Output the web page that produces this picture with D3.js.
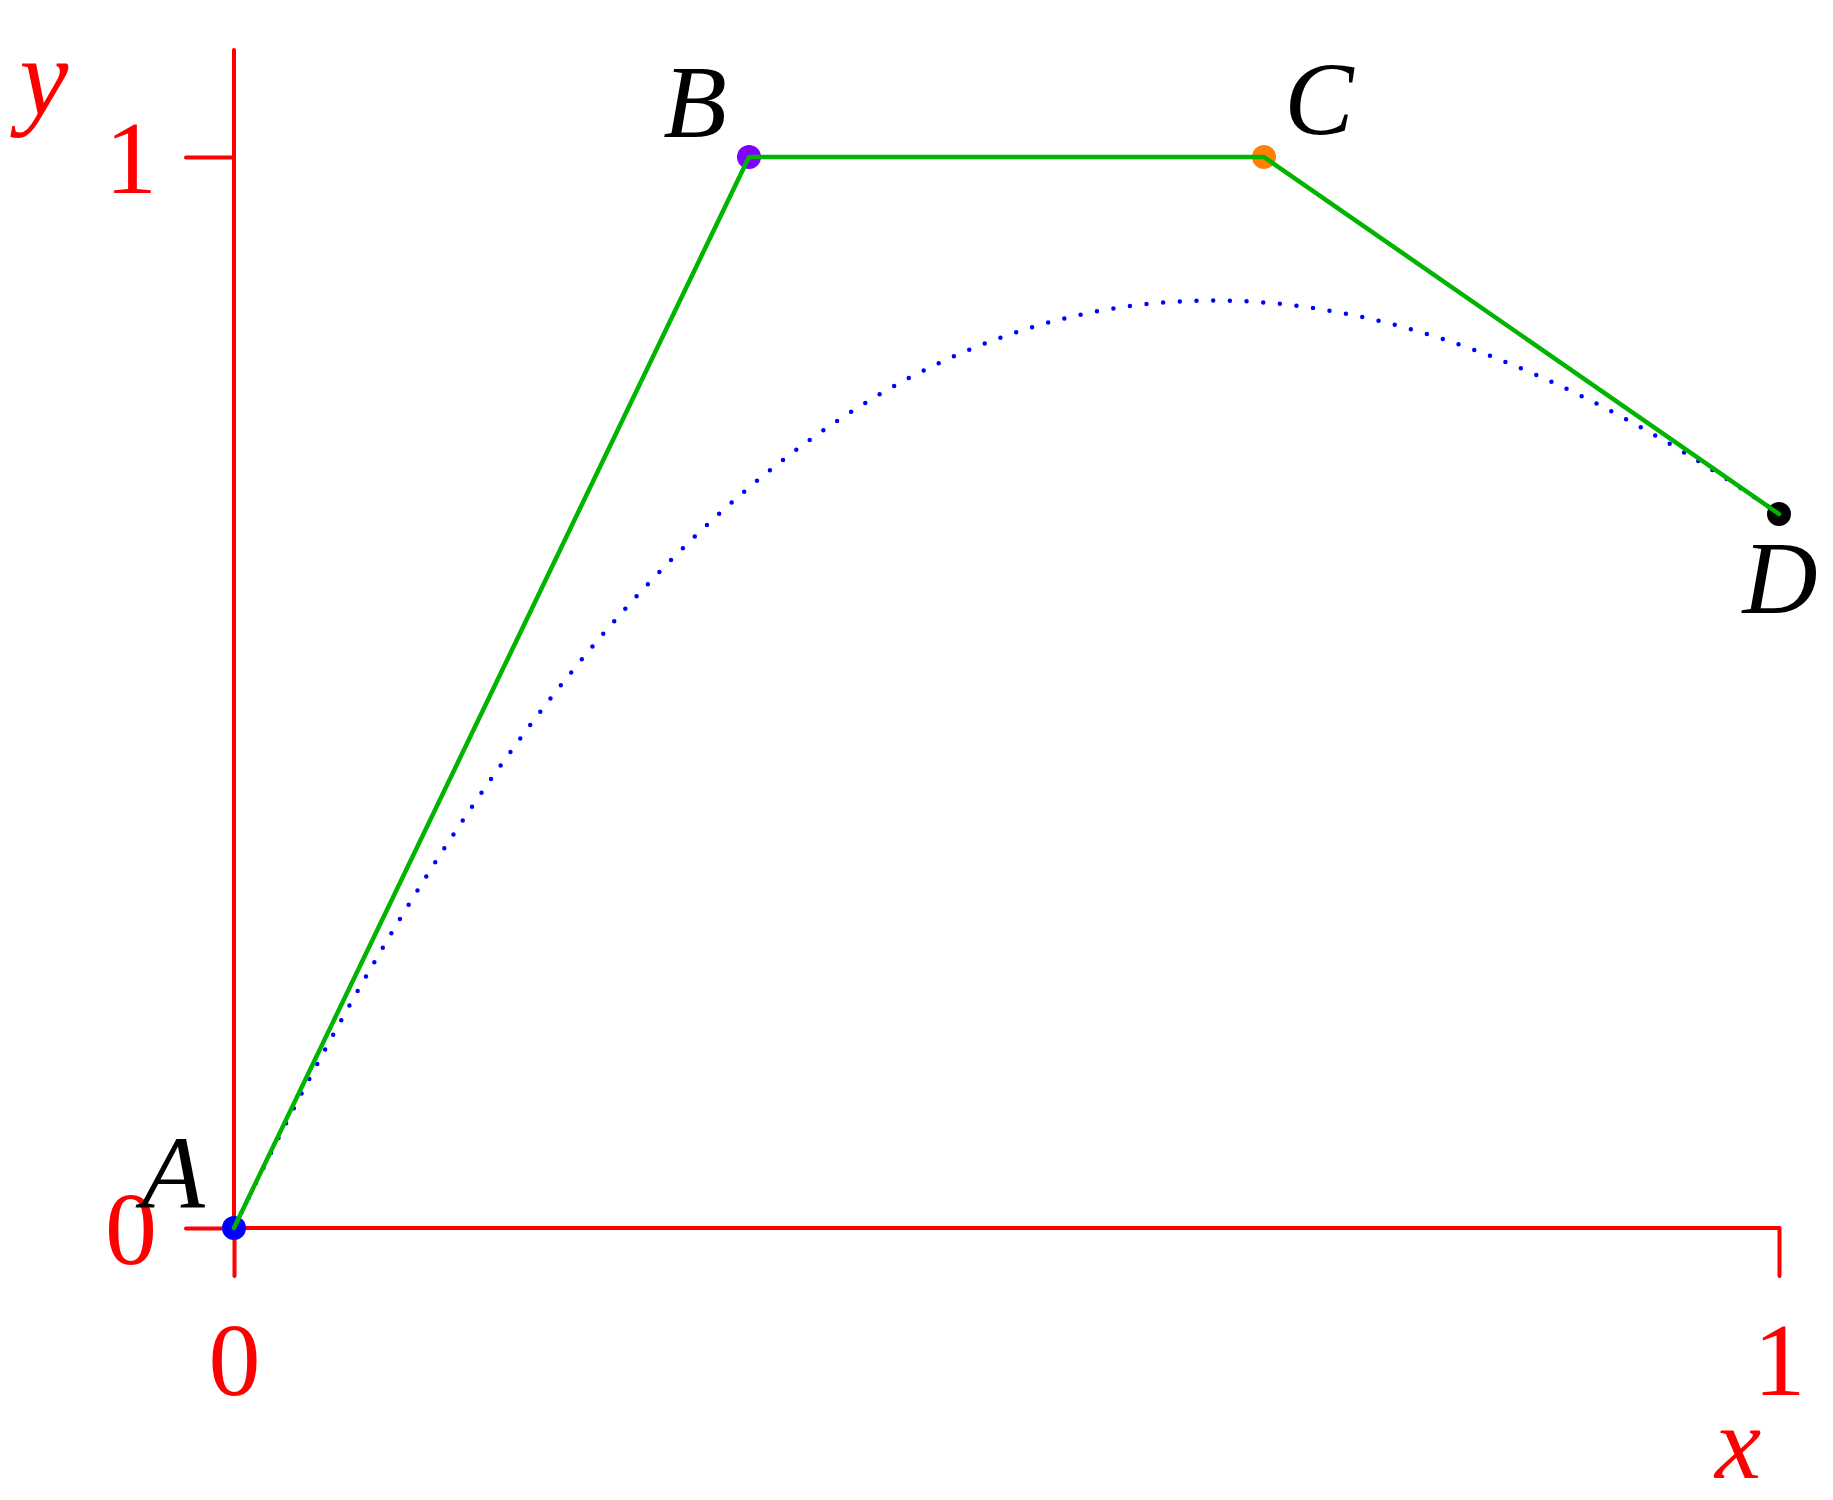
<!DOCTYPE html>
<html>
<head>
<meta charset="utf-8">
<script src="https://cdn.jsdelivr.net/npm/d3@7"></script>
<style>
  html, body { margin: 0; padding: 0; background: #fff; }
  svg { display: block; }
  text { font-family: "Liberation Serif", "DejaVu Serif", serif; }
</style>
</head>
<body>
<svg id="chart" width="1833" height="1500"></svg>
<script>
//========================== Data ================================

const pointNames = ['A', 'B', 'C', 'D']
const pointX = [0, 1/3, 2/3, 1]
const pointY = [0, 1, 1, 2/3]
const pointColors = ['#0000ff', '#8000ff', '#ff8000', '#000000']

const xTicks = [0, 1]
const yTicks = [0, 1]
const xTickLabels = ['0', '1']
const yTickLabels = ['0', '1']

//========================== Layout ================================

const svg = d3.select('#chart')
const red = '#ff0000'
const tickLen = 48
const fontSize = 104

// 0..1 on both axes, y axis runs a bit higher than 1
let x = d3.scaleLinear().domain([0, 1]).range([234, 1779])
let y = d3.scaleLinear().domain([0, 1]).range([1228, 157])

// label offsets from each point, in px
const labelOffsets = [[-61, -20], [-54, -20], [55, -23], [1, 99]]

let pts = pointX.map((px, i) => ({ name: pointNames[i], x: px, y: pointY[i], color: pointColors[i] }))

//========================== Axes ================================

let xAxis = d3.axisBottom(x)
  .tickValues(xTicks)
  .tickSize(tickLen)
  .tickSizeOuter(0)
  .tickFormat((d, i) => xTickLabels[i])

let yAxis = d3.axisLeft(y)
  .tickValues(yTicks)
  .tickSize(tickLen)
  .tickSizeOuter(0)
  .tickFormat((d, i) => yTickLabels[i])

let gx = svg.append('g').attr('transform', `translate(0,${y(0)})`).call(xAxis)
let gy = svg.append('g').attr('transform', `translate(${x(0)},0)`).call(yAxis)

// stretch the y domain line up past 1
gy.select('.domain').attr('d', `M0,${y(0)}V${y(1.1)}`)
gx.select('.domain').attr('d', `M${x(0)},0H${x(1)}`)

;[gx, gy].forEach(g => {
  g.selectAll('.domain, line')
    .attr('stroke', red)
    .attr('stroke-width', 4)
    .attr('stroke-linecap', 'round')
  g.selectAll('text')
    .attr('fill', red)
    .style('font-size', `${fontSize}px`)
    .style('font-family', '"Liberation Serif", serif')
})

gx.selectAll('.tick text').attr('y', 0).attr('dy', 0)
  .attr('transform', `translate(0,${1395 - y(0)})`)
gy.selectAll('.tick text').attr('x', 0).attr('dy', 0)
  .attr('text-anchor', 'middle')
  .attr('transform', `translate(${131 - x(0)},35)`)

// axis names
svg.append('text')
  .attr('x', 44).attr('y', 115)
  .attr('text-anchor', 'middle')
  .attr('fill', red)
  .style('font-style', 'italic')
  .style('font-size', `${fontSize + 6}px`)
  .text('y')

svg.append('text')
  .attr('x', 1738).attr('y', 1478)
  .attr('text-anchor', 'middle')
  .attr('fill', red)
  .style('font-style', 'italic')
  .style('font-size', `${fontSize}px`)
  .text('x')

//========================== Curve ================================

// cubic bezier with A,B,C,D as control points
let bez = d3.path()
bez.moveTo(x(pts[0].x), y(pts[0].y))
bez.bezierCurveTo(x(pts[1].x), y(pts[1].y), x(pts[2].x), y(pts[2].y), x(pts[3].x), y(pts[3].y))

svg.append('path')
  .attr('d', bez.toString())
  .attr('fill', 'none')
  .attr('stroke', '#0000ff')
  .attr('stroke-width', 4.5)
  .attr('stroke-linecap', 'round')
  .attr('stroke-dasharray', '0 16.7')

//========================== Points ================================

svg.selectAll('circle.pt')
  .data(pts)
  .enter().append('circle')
  .attr('class', 'pt')
  .attr('cx', d => x(d.x))
  .attr('cy', d => y(d.y))
  .attr('r', 12)
  .attr('fill', d => d.color)

let line = d3.line().x(d => x(d.x)).y(d => y(d.y))

svg.append('path')
  .datum(pts)
  .attr('d', line)
  .attr('fill', 'none')
  .attr('stroke', '#00b400')
  .attr('stroke-width', 4.5)
  .attr('stroke-linejoin', 'round')
  .attr('stroke-linecap', 'round')

svg.selectAll('text.lbl')
  .data(pts)
  .enter().append('text')
  .attr('class', 'lbl')
  .attr('x', (d, i) => x(d.x) + labelOffsets[i][0])
  .attr('y', (d, i) => y(d.y) + labelOffsets[i][1])
  .attr('text-anchor', 'middle')
  .attr('fill', '#000')
  .style('font-style', 'italic')
  .style('font-size', `${fontSize}px`)
  .text(d => d.name)
</script>
</body>
</html>
